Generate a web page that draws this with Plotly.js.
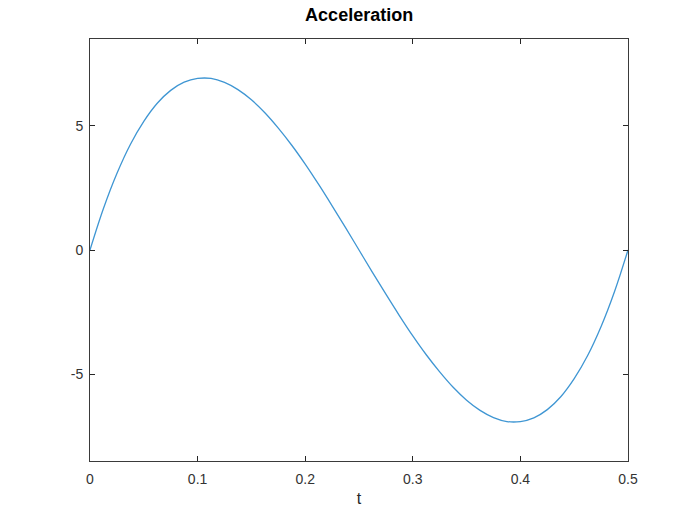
<!DOCTYPE html>
<html>
<head>
<meta charset="utf-8">
<script src="https://cdn.plot.ly/plotly-3.0.1.min.js"></script>
<style>html,body{margin:0;padding:0;background:#fff;}#chart{width:694px;height:518px;}</style>
</head>
<body>
<div id="chart"></div>
<script>
// Values
const tValues = [0, 0.0125, 0.025, 0.0375, 0.05, 0.0625, 0.075, 0.0875, 0.1, 0.1125,
                 0.125, 0.1375, 0.15, 0.1625, 0.175, 0.1875, 0.2, 0.2125, 0.225, 0.2375,
                 0.25, 0.2625, 0.275, 0.2875, 0.3, 0.3125, 0.325, 0.3375, 0.35, 0.3625,
                 0.375, 0.3875, 0.4, 0.4125, 0.425, 0.4375, 0.45, 0.4625, 0.475, 0.4875, 0.5];
const accel = [0, 1.67, 3.08, 4.25, 5.18, 5.91, 6.43, 6.76, 6.91, 6.91,
               6.75, 6.46, 6.05, 5.53, 4.91, 4.22, 3.46, 2.64, 1.78, 0.90,
               0, -0.90, -1.78, -2.64, -3.46, -4.22, -4.91, -5.53, -6.05, -6.46,
               -6.75, -6.91, -6.91, -6.76, -6.43, -5.91, -5.18, -4.25, -3.08, -1.67, 0];
const xTicks = [0, 0.1, 0.2, 0.3, 0.4, 0.5];
const xTickLabels = ['0', '0.1', '0.2', '0.3', '0.4', '0.5'];
const yTicks = [-5, 0, 5];
const yTickLabels = ['-5', '0', '5'];

const FONT = 'Liberation Sans, Arial, sans-serif';
const axisCommon = {
  showline: true, mirror: 'ticks', linecolor: '#3a3a3a', linewidth: 1,
  ticks: 'inside', ticklen: 5, tickcolor: '#262626', tickwidth: 1,
  showgrid: false, zeroline: false,
  tickfont: {family: FONT, size: 14, color: '#333333'}
};

Plotly.newPlot('chart', [{
  x: tValues, y: accel, type: 'scatter', mode: 'lines',
  line: {color: '#3f96d3', width: 1.3, shape: 'spline', smoothing: 1.0},
  hoverinfo: 'none'
}], {
  width: 694, height: 518,
  margin: {l: 90, r: 66, t: 39, b: 57},
  paper_bgcolor: '#ffffff', plot_bgcolor: '#ffffff',
  showlegend: false,
  title: {text: '<b>Acceleration</b>', x: 0.5175, xanchor: 'center', y: 0.971, yanchor: 'middle',
          font: {family: FONT, size: 18, color: '#000000'}},
  xaxis: Object.assign({}, axisCommon, {
    range: [0, 0.5], tickvals: xTicks, ticktext: xTickLabels, ticklabelstandoff: 5,
    title: {text: 't', standoff: 7, font: {family: FONT, size: 16, color: '#262626'}}
  }),
  yaxis: Object.assign({}, axisCommon, {
    range: [-8.5, 8.5], tickvals: yTicks, ticktext: yTickLabels, ticklabelstandoff: 3
  })
}, {staticPlot: true});
</script>
</body>
</html>
